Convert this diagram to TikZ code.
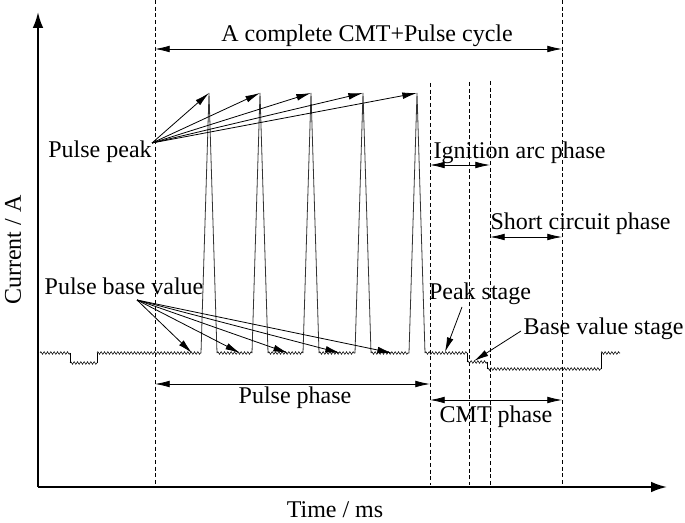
\documentclass[tikz,border=0pt]{standalone}
\usepackage{fontspec}
\setmainfont{Liberation Serif}
\usetikzlibrary{arrows.meta,decorations.pathmorphing}
\begin{document}
\begin{tikzpicture}[x=0.75pt,y=-0.75pt,
  lbl/.style={font=\fontsize{18}{20}\selectfont,inner sep=1pt},
  dim/.style={{Latex[length=11pt,width=5pt]}-{Latex[length=11pt,width=5pt]},semithick},
  ptr/.style={-{Latex[length=11pt,width=5pt]},semithick},
  guide/.style={thin,dash pattern=on 3pt off 2pt},
  zz/.style={decorate,decoration={zigzag,amplitude=1pt,segment length=2.5pt},thin},
  pulse/.style={semithick,black!80}]
\useasboundingbox (0,0) rectangle (685,523);
% axes
\coordinate (o) at (38,487);
\coordinate (ytop) at (38,12);
\coordinate (xend) at (667,487);
\draw[line width=1.5pt,-{Latex[length=12pt,width=8pt]}] (o) -- (ytop);
\draw[line width=1.5pt,-{Latex[length=12pt,width=8pt]}] (o) -- (xend);
\node[lbl,rotate=90] (ylab) at (13,250) {Current / A};
\node[lbl] (xlab) at (335,510) {Time / ms};
% guides
\draw[guide] (155,0) -- (155,485);
\draw[guide] (430,83) -- (430,485);
\draw[guide] (469,82) -- (469,485);
\draw[guide] (490,81) -- (490,485);
\draw[guide] (562,0) -- (562,485);
% waveform
\draw[zz] (40,353) -- (70,353);
\draw[thin] (70,353) -- (70,363);
\draw[zz] (70,363) -- (97,363);
\draw[thin] (97,363) -- (97,353);
\draw[zz] (97,353) -- (201,353);
\foreach \p in {209,260,311,363,417}{
  \draw[pulse] (\p-8,353) -- (\p,93) -- (\p+8,353);
}
\draw[zz] (217,353) -- (252,353);
\draw[zz] (268,353) -- (303,353);
\draw[zz] (319,353) -- (355,353);
\draw[zz] (371,353) -- (409,353);
\draw[zz] (425,353) -- (467,353);
\draw[thin] (467,353) -- (467,362);
\draw[zz] (467,362) -- (487,362);
\draw[thin] (487,362) -- (487,369);
\draw[zz] (487,369) -- (601,369);
\draw[thin] (601,369) -- (601,353);
\draw[zz] (601,353) -- (620,353);
% dimension arrows
\coordinate (c1) at (155,49); \coordinate (c2) at (562,49);
\draw[dim] (c1) -- (c2);
\node[lbl] (cyc) at (367,36) {A complete CMT+Pulse cycle};
\coordinate (i1) at (430,165); \coordinate (i2) at (490,165);
\draw[dim] (i1) -- (i2);
\node[lbl,anchor=west] (ign) at (432,153) {Ignition arc phase};
\coordinate (s1) at (490,237); \coordinate (s2) at (562,237);
\draw[dim] (s1) -- (s2);
\node[lbl,anchor=west] (sc) at (489,224) {Short circuit phase};
\coordinate (p1) at (155,384); \coordinate (p2) at (430,384);
\draw[dim] (p1) -- (p2);
\node[lbl] (pp) at (295,398) {Pulse phase};
\coordinate (m1) at (430,400); \coordinate (m2) at (562,400);
\draw[dim] (m1) -- (m2);
\node[lbl] (cmt) at (496,417) {CMT phase};
% pointer labels
\node[lbl] (peak) at (100,152) {Pulse peak};
\foreach \p in {209,260,311,363,417}{
  \draw[ptr] (152,143) -- (\p,93);
}
\node[lbl] (base) at (124,286) {Pulse base value};
\foreach \q in {192,240,288,340,392}{
  \draw[ptr] (137,300) -- (\q,353);
}
\node[lbl] (pk) at (480,294) {Peak stage};
\draw[ptr] (462,307) -- (445,352);
\node[lbl,anchor=west] (bv) at (522,329) {Base value stage};
\draw[ptr] (521,331) -- (474,361);
\end{tikzpicture}
\end{document}
